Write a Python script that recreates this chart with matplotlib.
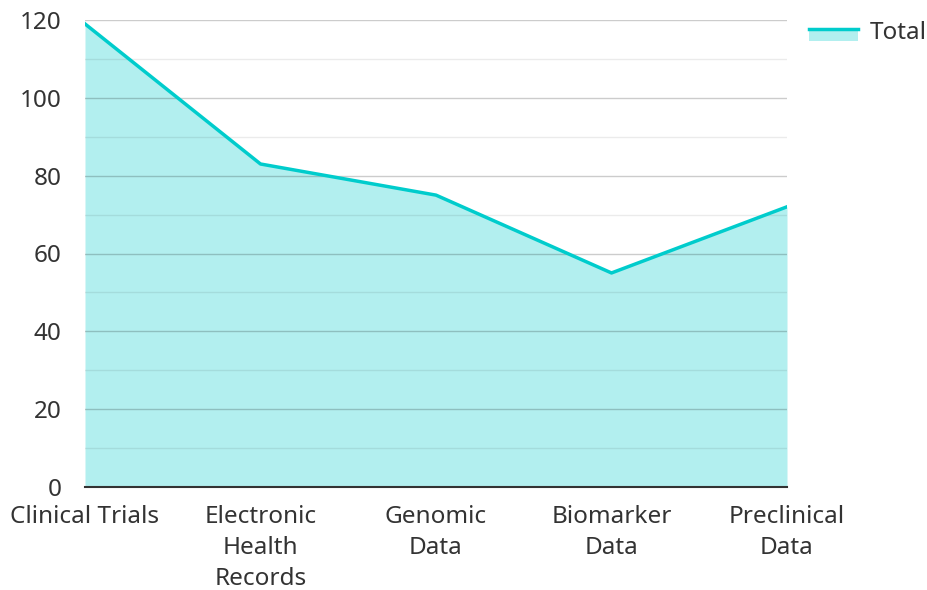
import matplotlib.pyplot as plt
from matplotlib.lines import Line2D
from matplotlib.patches import Rectangle

plt.rcParams['font.family'] = ['Noto Sans', 'DejaVu Sans']

categories = ["Clinical Trials", "Electronic\nHealth\nRecords", "Genomic\nData",
              "Biomarker\nData", "Preclinical\nData"]
totals = [119, 83, 75, 55, 72]
yticks = [0, 20, 40, 60, 80, 100, 120]

line_color = '#00cccc'
fill_color = '#b2efef'
text_color = '#333333'


class AreaHandler:
    # line on top, filled strip underneath, like the legend in the original
    def legend_artist(self, legend, orig_handle, fontsize, handlebox):
        x0, y0 = handlebox.xdescent, handlebox.ydescent
        w, h = handlebox.width, handlebox.height
        top = y0 + h * 0.6
        bottom = y0 - h * 0.1
        patch = Rectangle((x0, bottom), w, top - bottom,
                          facecolor=fill_color, edgecolor='none',
                          transform=handlebox.get_transform())
        line = Line2D([x0, x0 + w], [top, top], color=line_color, lw=2.5,
                      transform=handlebox.get_transform())
        handlebox.add_artist(patch)
        handlebox.add_artist(line)
        return patch


fig = plt.figure(figsize=(9.28, 5.9), dpi=100)
ax = fig.add_axes([85 / 928, 1 - 487 / 590, (787 - 85) / 928, (487 - 20) / 590])

xs = list(range(len(categories)))
ax.fill_between(xs, totals, 0, color=fill_color, lw=0, zorder=1)
ax.plot(xs, totals, color=line_color, lw=2.5, zorder=3)

ax.set_xlim(0, len(categories) - 1)
ax.set_ylim(0, 120)
ax.set_yticks(yticks)
ax.set_yticks(range(10, 120, 20), minor=True)
ax.set_xticks(xs)
ax.set_xticklabels(categories)

ax.grid(axis='y', which='major', color='#000000', alpha=0.2, lw=1, zorder=2)
ax.grid(axis='y', which='minor', color='#000000', alpha=0.08, lw=1, zorder=2)
ax.set_axisbelow(False)

for s in ['left', 'right', 'top']:
    ax.spines[s].set_visible(False)
ax.spines['bottom'].set_color('#333333')
ax.spines['bottom'].set_linewidth(1.5)
ax.spines['bottom'].set_zorder(4)

ax.tick_params(axis='both', which='both', length=0, labelsize=17.5, colors=text_color)
ax.tick_params(axis='y', pad=17)
ax.tick_params(axis='x', pad=13)
for lbl in ax.get_xticklabels():
    lbl.set_linespacing(1.4)

leg = fig.legend([object()], ['Total'], loc='upper right',
                 bbox_to_anchor=(927 / 928, 1 - 21 / 590),
                 frameon=False, fontsize=17.5, handlelength=2.0, handletextpad=0.5,
                 borderpad=0, borderaxespad=0,
                 labelcolor=text_color, handler_map={object: AreaHandler()})

fig.savefig('out.png', dpi=100)
